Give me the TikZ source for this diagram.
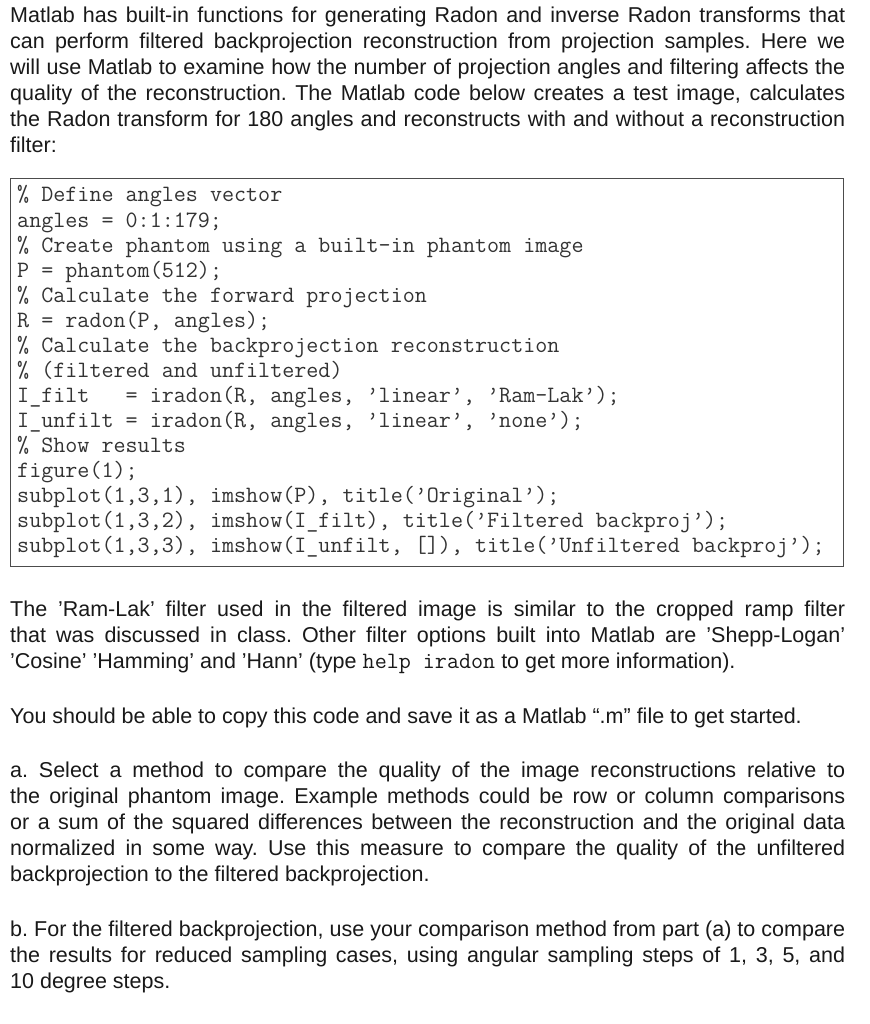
\documentclass[tikz,border=0pt]{standalone}
\usepackage{fontspec}
\setmainfont{Liberation Sans}
\begin{document}
\frenchspacing
\begin{tikzpicture}[x=1pt,y=-1pt,
  tl/.style={anchor=base west,inner sep=0pt,font=\fontsize{21.5}{24}\selectfont,text=black!90},
  cl/.style={anchor=base west,inner sep=0pt,font=\ttfamily\fontsize{23.4}{24}\selectfont,text=black!80}]
\fill[white] (0,0) rectangle (869,1024);
\useasboundingbox (0,0) rectangle (869,1024);
\newcommand{\J}[1]{\makebox[835pt][s]{#1}}
\node[tl] (t1) at (10,23) {\J{Matlab has built-in functions for generating Radon and inverse Radon transforms that}};
\node[tl] (t2) at (10,49) {\J{can perform filtered backprojection reconstruction from projection samples. Here we}};
\node[tl] (t3) at (10,75) {\J{will use Matlab to examine how the number of projection angles and filtering affects the}};
\node[tl] (t4) at (10,101) {\J{quality of the reconstruction. The Matlab code below creates a test image, calculates}};
\node[tl] (t5) at (10,127) {\J{the Radon transform for 180 angles and reconstructs with and without a reconstruction}};
\node[tl] (t6) at (10,153) {filter:};
\draw[black!70,line width=0.8pt] (10,178) rectangle (843,566);
\node[cl] (c1) at (17,202) {\%\ Define angles vector};
\node[cl] (c2) at (17,227) {angles = 0:1:179;};
\node[cl] (c3) at (17,252) {\%\ Create phantom using a built-in phantom image};
\node[cl] (c4) at (17,277) {P = phantom(512);};
\node[cl] (c5) at (17,302) {\%\ Calculate the forward projection};
\node[cl] (c6) at (17,327) {R = radon(P, angles);};
\node[cl] (c7) at (17,352) {\%\ Calculate the backprojection reconstruction};
\node[cl] (c8) at (17,377) {\%\ (filtered and unfiltered)};
\node[cl] (c9) at (17,402) {I\_filt\ \ \ = iradon(R, angles, ’linear’, ’Ram-Lak’);};
\node[cl] (c10) at (17,427) {I\_unfilt = iradon(R, angles, ’linear’, ’none’);};
\node[cl] (c11) at (17,452) {\%\ Show results};
\node[cl] (c12) at (17,477) {figure(1);};
\node[cl] (c13) at (17,502) {subplot(1,3,1), imshow(P), title(’Original’);};
\node[cl] (c14) at (17,527) {subplot(1,3,2), imshow(I\_filt), title(’Filtered backproj’);};
\node[cl] (c15) at (17,552) {subplot(1,3,3), imshow(I\_unfilt, []), title(’Unfiltered backproj’);};
\node[tl] (p1) at (10,616) {\J{The ’Ram-Lak’ filter used in the filtered image is similar to the cropped ramp filter}};
\node[tl] (p2) at (10,642) {\J{that was discussed in class. Other filter options built into Matlab are ’Shepp-Logan’}};
\node[tl] (p3) at (10,668) {’Cosine’ ’Hamming’ and ’Hann’ (type {\ttfamily\fontsize{23.4}{24}\selectfont help iradon} to get more information).};
\node[tl] (p4) at (10,723) {You should be able to copy this code and save it as a Matlab “.m” file to get started.};
\node[tl] (a1) at (10,777) {\J{a. Select a method to compare the quality of the image reconstructions relative to}};
\node[tl] (a2) at (10,803) {\J{the original phantom image. Example methods could be row or column comparisons}};
\node[tl] (a3) at (10,829) {\J{or a sum of the squared differences between the reconstruction and the original data}};
\node[tl] (a4) at (10,855) {\J{normalized in some way. Use this measure to compare the quality of the unfiltered}};
\node[tl] (a5) at (10,881) {backprojection to the filtered backprojection.};
\node[tl] (b1) at (10,936) {\J{b. For the filtered backprojection, use your comparison method from part (a) to compare}};
\node[tl] (b2) at (10,962) {\J{the results for reduced sampling cases, using angular sampling steps of 1, 3, 5, and}};
\node[tl] (b3) at (10,988) {10 degree steps.};
\end{tikzpicture}
\end{document}
